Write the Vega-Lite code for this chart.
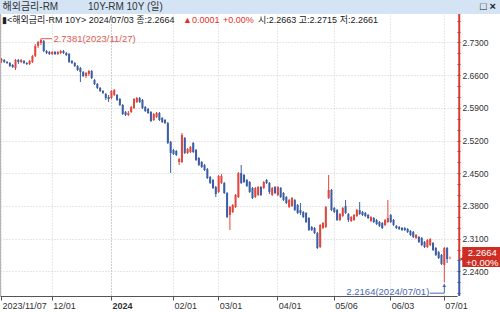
{
"$schema": "https://vega.github.io/schema/vega-lite/v6.json",
"background": "white",
"padding": {"left": 0, "top": 0, "right": 43, "bottom": 16},
"autosize": {"type": "none"},
"width": 457,
"height": 296,
"config": {
  "font": "Liberation Sans, Noto Sans CJK KR, sans-serif",
  "view": {"stroke": null}
},
"datasets": {
"candles": [
{"d":"2023-11-07","o":2.6904,"h":2.6968,"l":2.6861,"c":2.6947},
{"d":"2023-11-08","o":2.6925,"h":2.6947,"l":2.6861,"c":2.6882},
{"d":"2023-11-09","o":2.6882,"h":2.6904,"l":2.6840,"c":2.6861},
{"d":"2023-11-10","o":2.6861,"h":2.6882,"l":2.6775,"c":2.6797},
{"d":"2023-11-13","o":2.6818,"h":2.6840,"l":2.6754,"c":2.6775},
{"d":"2023-11-14","o":2.6754,"h":2.6947,"l":2.6711,"c":2.6925},
{"d":"2023-11-15","o":2.6925,"h":2.6947,"l":2.6840,"c":2.6882},
{"d":"2023-11-16","o":2.6882,"h":2.6947,"l":2.6861,"c":2.6925},
{"d":"2023-11-17","o":2.6904,"h":2.6925,"l":2.6840,"c":2.6861},
{"d":"2023-11-20","o":2.6861,"h":2.6882,"l":2.6818,"c":2.6840},
{"d":"2023-11-21","o":2.6840,"h":2.6925,"l":2.6818,"c":2.6904},
{"d":"2023-11-22","o":2.6882,"h":2.7032,"l":2.6861,"c":2.7011},
{"d":"2023-11-23","o":2.7011,"h":2.7268,"l":2.6990,"c":2.7225},
{"d":"2023-11-24","o":2.7225,"h":2.7332,"l":2.7182,"c":2.7311},
{"d":"2023-11-27","o":2.7289,"h":2.7381,"l":2.7246,"c":2.7353},
{"d":"2023-11-28","o":2.7332,"h":2.7353,"l":2.7097,"c":2.7118},
{"d":"2023-11-29","o":2.7118,"h":2.7139,"l":2.7054,"c":2.7075},
{"d":"2023-11-30","o":2.7097,"h":2.7118,"l":2.7032,"c":2.7054},
{"d":"2023-12-01","o":2.7054,"h":2.7118,"l":2.7032,"c":2.7097},
{"d":"2023-12-04","o":2.7097,"h":2.7118,"l":2.7032,"c":2.7054},
{"d":"2023-12-05","o":2.7054,"h":2.7118,"l":2.7032,"c":2.7097},
{"d":"2023-12-06","o":2.7075,"h":2.7139,"l":2.7054,"c":2.7118},
{"d":"2023-12-07","o":2.7118,"h":2.7139,"l":2.7054,"c":2.7075},
{"d":"2023-12-08","o":2.7075,"h":2.7097,"l":2.7011,"c":2.7032},
{"d":"2023-12-11","o":2.7054,"h":2.7075,"l":2.6861,"c":2.6882},
{"d":"2023-12-12","o":2.6904,"h":2.6925,"l":2.6840,"c":2.6861},
{"d":"2023-12-13","o":2.6861,"h":2.6882,"l":2.6775,"c":2.6797},
{"d":"2023-12-14","o":2.6797,"h":2.6818,"l":2.6690,"c":2.6711},
{"d":"2023-12-15","o":2.6754,"h":2.6775,"l":2.6454,"c":2.6668},
{"d":"2023-12-18","o":2.6668,"h":2.6690,"l":2.6561,"c":2.6583},
{"d":"2023-12-19","o":2.6583,"h":2.6668,"l":2.6540,"c":2.6647},
{"d":"2023-12-20","o":2.6625,"h":2.6711,"l":2.6583,"c":2.6690},
{"d":"2023-12-21","o":2.6690,"h":2.6711,"l":2.6518,"c":2.6540},
{"d":"2023-12-22","o":2.6497,"h":2.6518,"l":2.6390,"c":2.6411},
{"d":"2023-12-25","o":2.6411,"h":2.6433,"l":2.6304,"c":2.6326},
{"d":"2023-12-26","o":2.6326,"h":2.6347,"l":2.6240,"c":2.6261},
{"d":"2023-12-27","o":2.6261,"h":2.6283,"l":2.6197,"c":2.6219},
{"d":"2023-12-28","o":2.6197,"h":2.6219,"l":2.6069,"c":2.6112},
{"d":"2023-12-29","o":2.6133,"h":2.6176,"l":2.6026,"c":2.6090},
{"d":"2024-01-02","o":2.6112,"h":2.6283,"l":2.6090,"c":2.6261},
{"d":"2024-01-03","o":2.6176,"h":2.6304,"l":2.6154,"c":2.6283},
{"d":"2024-01-04","o":2.6176,"h":2.6197,"l":2.6047,"c":2.6069},
{"d":"2024-01-05","o":2.6090,"h":2.6112,"l":2.5940,"c":2.5962},
{"d":"2024-01-08","o":2.5962,"h":2.5983,"l":2.5748,"c":2.5769},
{"d":"2024-01-09","o":2.5812,"h":2.5833,"l":2.5726,"c":2.5748},
{"d":"2024-01-10","o":2.5748,"h":2.5833,"l":2.5726,"c":2.5790},
{"d":"2024-01-11","o":2.5812,"h":2.5940,"l":2.5790,"c":2.5919},
{"d":"2024-01-12","o":2.5897,"h":2.6112,"l":2.5876,"c":2.6090},
{"d":"2024-01-15","o":2.6026,"h":2.6133,"l":2.6005,"c":2.6112},
{"d":"2024-01-16","o":2.6112,"h":2.6133,"l":2.6005,"c":2.6026},
{"d":"2024-01-17","o":2.6069,"h":2.6090,"l":2.5876,"c":2.5897},
{"d":"2024-01-18","o":2.5919,"h":2.5940,"l":2.5812,"c":2.5833},
{"d":"2024-01-19","o":2.5876,"h":2.5897,"l":2.5769,"c":2.5790},
{"d":"2024-01-22","o":2.5812,"h":2.5833,"l":2.5598,"c":2.5619},
{"d":"2024-01-23","o":2.5640,"h":2.5790,"l":2.5619,"c":2.5769},
{"d":"2024-01-24","o":2.5705,"h":2.5812,"l":2.5683,"c":2.5790},
{"d":"2024-01-25","o":2.5790,"h":2.5812,"l":2.5619,"c":2.5640},
{"d":"2024-01-26","o":2.5683,"h":2.5705,"l":2.5576,"c":2.5598},
{"d":"2024-01-29","o":2.5640,"h":2.5662,"l":2.5555,"c":2.5576},
{"d":"2024-01-30","o":2.5576,"h":2.5598,"l":2.5126,"c":2.5148},
{"d":"2024-01-31","o":2.5169,"h":2.5191,"l":2.4506,"c":2.4934},
{"d":"2024-02-01","o":2.4998,"h":2.5019,"l":2.4891,"c":2.4912},
{"d":"2024-02-02","o":2.4977,"h":2.4998,"l":2.4870,"c":2.4891},
{"d":"2024-02-05","o":2.4741,"h":2.4827,"l":2.4677,"c":2.4805},
{"d":"2024-02-06","o":2.4741,"h":2.5362,"l":2.4720,"c":2.5319},
{"d":"2024-02-07","o":2.5255,"h":2.5276,"l":2.4912,"c":2.4934},
{"d":"2024-02-15","o":2.4934,"h":2.5041,"l":2.4912,"c":2.5019},
{"d":"2024-02-16","o":2.4955,"h":2.5084,"l":2.4934,"c":2.5062},
{"d":"2024-02-19","o":2.5148,"h":2.5169,"l":2.4934,"c":2.4955},
{"d":"2024-02-20","o":2.4998,"h":2.5019,"l":2.4763,"c":2.4784},
{"d":"2024-02-21","o":2.4827,"h":2.4848,"l":2.4655,"c":2.4677},
{"d":"2024-02-22","o":2.4741,"h":2.4763,"l":2.4613,"c":2.4634},
{"d":"2024-02-23","o":2.4677,"h":2.4698,"l":2.4548,"c":2.4570},
{"d":"2024-02-26","o":2.4591,"h":2.4613,"l":2.4377,"c":2.4399},
{"d":"2024-02-27","o":2.4420,"h":2.4441,"l":2.4270,"c":2.4291},
{"d":"2024-02-28","o":2.4356,"h":2.4377,"l":2.4163,"c":2.4184},
{"d":"2024-02-29","o":2.4206,"h":2.4227,"l":2.3992,"c":2.4056},
{"d":"2024-03-01","o":2.4099,"h":2.4463,"l":2.4077,"c":2.4441},
{"d":"2024-03-04","o":2.4291,"h":2.4484,"l":2.4270,"c":2.4441},
{"d":"2024-03-05","o":2.4291,"h":2.4313,"l":2.4056,"c":2.4077},
{"d":"2024-03-06","o":2.4077,"h":2.4099,"l":2.3542,"c":2.3563},
{"d":"2024-03-07","o":2.3606,"h":2.3799,"l":2.3285,"c":2.3778},
{"d":"2024-03-08","o":2.3670,"h":2.3842,"l":2.3649,"c":2.3820},
{"d":"2024-03-11","o":2.3778,"h":2.4056,"l":2.3756,"c":2.4035},
{"d":"2024-03-12","o":2.3992,"h":2.4527,"l":2.3970,"c":2.4506},
{"d":"2024-03-13","o":2.4506,"h":2.4677,"l":2.4270,"c":2.4291},
{"d":"2024-03-14","o":2.4463,"h":2.4484,"l":2.4291,"c":2.4313},
{"d":"2024-03-15","o":2.4356,"h":2.4377,"l":2.4206,"c":2.4227},
{"d":"2024-03-18","o":2.4313,"h":2.4334,"l":2.4077,"c":2.4099},
{"d":"2024-03-19","o":2.4184,"h":2.4206,"l":2.3949,"c":2.3970},
{"d":"2024-03-20","o":2.3992,"h":2.4206,"l":2.3970,"c":2.4184},
{"d":"2024-03-21","o":2.4035,"h":2.4227,"l":2.4013,"c":2.4206},
{"d":"2024-03-22","o":2.4206,"h":2.4227,"l":2.4013,"c":2.4035},
{"d":"2024-03-25","o":2.4184,"h":2.4334,"l":2.4163,"c":2.4313},
{"d":"2024-03-26","o":2.4356,"h":2.4377,"l":2.4270,"c":2.4291},
{"d":"2024-03-27","o":2.4291,"h":2.4313,"l":2.4056,"c":2.4099},
{"d":"2024-03-28","o":2.4035,"h":2.4206,"l":2.4013,"c":2.4184},
{"d":"2024-03-29","o":2.4206,"h":2.4227,"l":2.4056,"c":2.4077},
{"d":"2024-04-01","o":2.4035,"h":2.4227,"l":2.4013,"c":2.4206},
{"d":"2024-04-02","o":2.4184,"h":2.4206,"l":2.3970,"c":2.3992},
{"d":"2024-04-03","o":2.4077,"h":2.4099,"l":2.3906,"c":2.3927},
{"d":"2024-04-04","o":2.3992,"h":2.4013,"l":2.3842,"c":2.3863},
{"d":"2024-04-05","o":2.3778,"h":2.3949,"l":2.3756,"c":2.3927},
{"d":"2024-04-08","o":2.3799,"h":2.3992,"l":2.3778,"c":2.3970},
{"d":"2024-04-09","o":2.3927,"h":2.3949,"l":2.3692,"c":2.3713},
{"d":"2024-04-12","o":2.3820,"h":2.3842,"l":2.3628,"c":2.3649},
{"d":"2024-04-15","o":2.3713,"h":2.3863,"l":2.3606,"c":2.3649},
{"d":"2024-04-16","o":2.3670,"h":2.3692,"l":2.3542,"c":2.3563},
{"d":"2024-04-17","o":2.3649,"h":2.3670,"l":2.3435,"c":2.3456},
{"d":"2024-04-18","o":2.3542,"h":2.3563,"l":2.3264,"c":2.3285},
{"d":"2024-04-19","o":2.3349,"h":2.3371,"l":2.3264,"c":2.3285},
{"d":"2024-04-22","o":2.3328,"h":2.3349,"l":2.3199,"c":2.3221},
{"d":"2024-04-23","o":2.3221,"h":2.3242,"l":2.2878,"c":2.2900},
{"d":"2024-04-24","o":2.2921,"h":2.3414,"l":2.2900,"c":2.3392},
{"d":"2024-04-25","o":2.3328,"h":2.3456,"l":2.3306,"c":2.3435},
{"d":"2024-04-26","o":2.3349,"h":2.3799,"l":2.3328,"c":2.3778},
{"d":"2024-04-29","o":2.3970,"h":2.4463,"l":2.3949,"c":2.4142},
{"d":"2024-04-30","o":2.4142,"h":2.4163,"l":2.3692,"c":2.3713},
{"d":"2024-05-06","o":2.3756,"h":2.3778,"l":2.3649,"c":2.3670},
{"d":"2024-05-07","o":2.3713,"h":2.3735,"l":2.3478,"c":2.3499},
{"d":"2024-05-08","o":2.3499,"h":2.3649,"l":2.3478,"c":2.3628},
{"d":"2024-05-09","o":2.3585,"h":2.3778,"l":2.3563,"c":2.3756},
{"d":"2024-05-10","o":2.3799,"h":2.3927,"l":2.3628,"c":2.3649},
{"d":"2024-05-13","o":2.3628,"h":2.3649,"l":2.3456,"c":2.3499},
{"d":"2024-05-14","o":2.3478,"h":2.3585,"l":2.3456,"c":2.3563},
{"d":"2024-05-15","o":2.3499,"h":2.3628,"l":2.3478,"c":2.3606},
{"d":"2024-05-16","o":2.3585,"h":2.3735,"l":2.3563,"c":2.3713},
{"d":"2024-05-17","o":2.3713,"h":2.3885,"l":2.3606,"c":2.3628},
{"d":"2024-05-20","o":2.3670,"h":2.3692,"l":2.3585,"c":2.3606},
{"d":"2024-05-21","o":2.3649,"h":2.3670,"l":2.3563,"c":2.3585},
{"d":"2024-05-22","o":2.3606,"h":2.3628,"l":2.3521,"c":2.3542},
{"d":"2024-05-23","o":2.3478,"h":2.3585,"l":2.3456,"c":2.3563},
{"d":"2024-05-24","o":2.3542,"h":2.3563,"l":2.3435,"c":2.3456},
{"d":"2024-05-27","o":2.3499,"h":2.3521,"l":2.3392,"c":2.3414},
{"d":"2024-05-28","o":2.3456,"h":2.3478,"l":2.3349,"c":2.3371},
{"d":"2024-05-29","o":2.3435,"h":2.3456,"l":2.3306,"c":2.3328},
{"d":"2024-05-30","o":2.3392,"h":2.3521,"l":2.3371,"c":2.3499},
{"d":"2024-05-31","o":2.3456,"h":2.3927,"l":2.3435,"c":2.3542},
{"d":"2024-06-03","o":2.3606,"h":2.3628,"l":2.3435,"c":2.3456},
{"d":"2024-06-04","o":2.3499,"h":2.3521,"l":2.3371,"c":2.3392},
{"d":"2024-06-05","o":2.3371,"h":2.3392,"l":2.3306,"c":2.3328},
{"d":"2024-06-06","o":2.3349,"h":2.3371,"l":2.3285,"c":2.3306},
{"d":"2024-06-07","o":2.3328,"h":2.3349,"l":2.3264,"c":2.3285},
{"d":"2024-06-10","o":2.3328,"h":2.3349,"l":2.3264,"c":2.3285},
{"d":"2024-06-11","o":2.3306,"h":2.3328,"l":2.3221,"c":2.3242},
{"d":"2024-06-12","o":2.3264,"h":2.3285,"l":2.3157,"c":2.3178},
{"d":"2024-06-13","o":2.3242,"h":2.3264,"l":2.3114,"c":2.3135},
{"d":"2024-06-14","o":2.3114,"h":2.3199,"l":2.3092,"c":2.3178},
{"d":"2024-06-18","o":2.3135,"h":2.3157,"l":2.3007,"c":2.3028},
{"d":"2024-06-19","o":2.3114,"h":2.3135,"l":2.2942,"c":2.2964},
{"d":"2024-06-20","o":2.3028,"h":2.3050,"l":2.2900,"c":2.2921},
{"d":"2024-06-21","o":2.2921,"h":2.3092,"l":2.2900,"c":2.3071},
{"d":"2024-06-24","o":2.2964,"h":2.3114,"l":2.2942,"c":2.3092},
{"d":"2024-06-25","o":2.3007,"h":2.3028,"l":2.2835,"c":2.2857},
{"d":"2024-06-26","o":2.2900,"h":2.2921,"l":2.2728,"c":2.2750},
{"d":"2024-06-27","o":2.2814,"h":2.2835,"l":2.2664,"c":2.2685},
{"d":"2024-06-28","o":2.2750,"h":2.2771,"l":2.2536,"c":2.2557},
{"d":"2024-07-01","o":2.2536,"h":2.2921,"l":2.2164,"c":2.2900},
{"d":"2024-07-02","o":2.2900,"h":2.2921,"l":2.2578,"c":2.2663},
{"d":"2024-07-03","o":2.2663,"h":2.2715,"l":2.2661,"c":2.2664}
],
"ann": [
{"d":"2023-11-27","v":2.7381,"t":"2.7381(2023/11/27)","k":"max"},
{"d":"2024-07-01","v":2.2164,"t":"2.2164(2024/07/01)","k":"min"}
],
"frame": [
{"d0":"2023-11-07","d1":"2024-07-03","c":2.2664,"top":2.791,"bottom":2.1872,"head":2.821}
]
},
"layer": [
  {
    "data": {"name": "candles"},
    "mark": {"type": "rule", "strokeWidth": 1},
    "encoding": {
      "x": {"field": "d", "type": "ordinal",
            "scale": {"type": "band", "paddingInner": 0, "paddingOuter": 1.23, "align": 0},
            "axis": {"orient": "bottom", "title": null,
                     "values": ["2023-11-07","2023-12-01","2024-01-02","2024-02-01","2024-03-01","2024-04-01","2024-05-06","2024-06-03","2024-07-01"],
                     "labelExpr": "datum.value == '2023-11-07' ? '2023/11/07' : datum.value == '2024-01-02' ? '2024' : replace(slice(datum.value, 5), '-', '/')",
                     "labelAlign": "left", "labelAngle": 0, "labelOffset": 1, "labelPadding": 1, "labelFontSize": 9, "labelColor": "#333333",
                     "labelFontWeight": {"condition": {"test": "datum.value == '2024-01-02'", "value": "bold"}, "value": "normal"},
                     "labelOverlap": false,
                     "tickSize": 4, "tickColor": "#555555", "domainColor": "#555555",
                     "grid": true, "gridDash": [1, 2],
                     "gridColor": {"condition": {"test": "datum.value == '2024-01-02'", "value": "#9a9a9a"}, "value": "#d0d0d0"}}},
      "y": {"field": "l", "type": "quantitative",
            "scale": {"domain": [2.1872, 2.821], "nice": false, "zero": false},
            "axis": {"orient": "right", "title": null, "domain": false, "tickCount": 100,
                     "values": [2.1933,2.2167,2.24,2.2633,2.2867,2.31,2.3333,2.3567,2.38,2.4033,2.4267,2.45,2.4733,2.4967,2.52,2.5433,2.5667,2.59,2.6133,2.6367,2.66,2.6833,2.7067,2.73,2.7533,2.7767],
                     "labelExpr": "indexof([2.24,2.31,2.38,2.45,2.52,2.59,2.66,2.73], datum.value) >= 0 ? format(datum.value, '.4f') : ''",
                     "labelAlign": "left", "labelPadding": 2, "labelFontSize": 8.5, "labelColor": "#333333", "labelOverlap": false,
                     "tickSize": 3, "tickColor": "#555555",
                     "grid": true, "gridDash": [1, 2], "gridColor": "#cccccc",
                     "gridOpacity": {"condition": {"test": "indexof([2.24,2.31,2.38,2.45,2.52,2.59,2.66,2.73], datum.value) >= 0", "value": 1}, "value": 0}}},
      "y2": {"field": "h"},
      "color": {"condition": {"test": "datum.c >= datum.o", "value": "#e0463c"}, "value": "#3b5ea6"}
    }
  },
  {
    "data": {"name": "candles"},
    "mark": {"type": "bar", "width": {"band": 0.72}},
    "encoding": {
      "x": {"field": "d", "type": "ordinal"},
      "y": {"field": "o", "type": "quantitative"},
      "y2": {"field": "c"},
      "color": {"condition": {"test": "datum.c >= datum.o", "value": "#e0463c"}, "value": "#3b5ea6"}
    }
  },
  {
    "data": {"name": "ann"},
    "transform": [{"filter": "datum.k == 'max'"}],
    "mark": {"type": "rule", "color": "#e05a50", "strokeWidth": 1, "x2Offset": 11.2},
    "encoding": {
      "x": {"field": "d", "type": "ordinal"},
      "x2": {"field": "d"},
      "y": {"field": "v", "type": "quantitative"}
    }
  },
  {
    "data": {"name": "ann"},
    "transform": [{"filter": "datum.k == 'max'"}],
    "mark": {"type": "text", "align": "left", "baseline": "middle", "dx": 12.5, "dy": 0.5, "fontSize": 9.5, "color": "#e05a50"},
    "encoding": {
      "x": {"field": "d", "type": "ordinal"},
      "y": {"field": "v", "type": "quantitative"},
      "text": {"field": "t"}
    }
  },
  {
    "data": {"name": "ann"},
    "transform": [{"filter": "datum.k == 'min'"}],
    "mark": {"type": "text", "align": "right", "baseline": "middle", "dx": -15, "dy": 10, "fontSize": 9.5, "color": "#4a68b5"},
    "encoding": {
      "x": {"field": "d", "type": "ordinal"},
      "y": {"field": "v", "type": "quantitative"},
      "text": {"field": "t"}
    }
  },
  {
    "data": {"name": "ann"},
    "transform": [{"filter": "datum.k == 'min'"}],
    "mark": {"type": "rule", "color": "#4a68b5", "strokeWidth": 1, "xOffset": -14.5, "yOffset": 10.8, "y2Offset": 10.8},
    "encoding": {
      "x": {"field": "d", "type": "ordinal"},
      "x2": {"field": "d"},
      "y": {"field": "v", "type": "quantitative"},
      "y2": {"field": "v"}
    }
  },
  {
    "data": {"name": "ann"},
    "transform": [{"filter": "datum.k == 'min'"}],
    "mark": {"type": "rule", "color": "#4a68b5", "strokeWidth": 1, "yOffset": 10.8, "y2Offset": 2},
    "encoding": {
      "x": {"field": "d", "type": "ordinal"},
      "y": {"field": "v", "type": "quantitative"},
      "y2": {"field": "v"}
    }
  },
  {
    "data": {"name": "ann"},
    "transform": [{"filter": "datum.k == 'min'"}],
    "mark": {"type": "point", "shape": "triangle-up", "size": 14, "filled": true, "opacity": 1, "color": "#4a68b5", "yOffset": 3},
    "encoding": {
      "x": {"field": "d", "type": "ordinal"},
      "y": {"field": "v", "type": "quantitative"}
    }
  },
  {
    "data": {"name": "frame"},
    "mark": {"type": "rule", "color": "#d4e4f4", "strokeWidth": 14, "strokeCap": "butt", "xOffset": -1.6, "x2Offset": 52.6, "yOffset": 7},
    "encoding": {
      "x": {"field": "d0", "type": "ordinal"},
      "x2": {"field": "d1"},
      "y": {"field": "head", "type": "quantitative"}
    }
  },
  {
    "data": {"name": "frame"},
    "mark": {"type": "rule", "color": "#b4b4b4", "strokeWidth": 1, "xOffset": -0.9},
    "encoding": {
      "x": {"field": "d0", "type": "ordinal"},
      "y": {"field": "bottom", "type": "quantitative"},
      "y2": {"field": "top"}
    }
  },
  {
    "data": {"name": "frame"},
    "mark": {"type": "rule", "color": "#d8382d", "strokeWidth": 2, "xOffset": 9.3},
    "encoding": {
      "x": {"field": "d1", "type": "ordinal"},
      "y": {"field": "c", "type": "quantitative"},
      "y2": {"field": "top"}
    }
  },
  {
    "data": {"name": "frame"},
    "mark": {"type": "rule", "color": "#3c5aa6", "strokeWidth": 2, "xOffset": 9.3},
    "encoding": {
      "x": {"field": "d1", "type": "ordinal"},
      "y": {"field": "bottom", "type": "quantitative"},
      "y2": {"field": "c"}
    }
  },
  {
    "data": {"name": "frame"},
    "mark": {"type": "rule", "color": "#cd2d22", "strokeWidth": 40, "strokeCap": "butt", "xOffset": 32.3, "yOffset": -12, "y2Offset": 8},
    "encoding": {
      "x": {"field": "d1", "type": "ordinal"},
      "y": {"field": "c", "type": "quantitative"},
      "y2": {"field": "c"}
    }
  },
  {
    "data": {"name": "frame"},
    "mark": {"type": "point", "shape": "M1,-1L-1,0L1,1Z", "size": 64, "filled": true, "opacity": 1, "color": "#cd2d22", "xOffset": 13.3},
    "encoding": {
      "x": {"field": "d1", "type": "ordinal"},
      "y": {"field": "c", "type": "quantitative"}
    }
  },
  {
    "data": {"name": "frame"},
    "mark": {"type": "text", "align": "center", "baseline": "middle", "fontSize": 9.5, "color": "white", "dx": 32.3, "dy": -6.5},
    "encoding": {
      "x": {"field": "d1", "type": "ordinal"},
      "y": {"field": "c", "type": "quantitative"},
      "text": {"field": "c", "type": "quantitative", "format": ".4f"}
    }
  },
  {
    "data": {"name": "frame"},
    "mark": {"type": "text", "align": "center", "baseline": "middle", "fontSize": 9.5, "color": "white", "dx": 32.3, "dy": 3.5},
    "encoding": {
      "x": {"field": "d1", "type": "ordinal"},
      "y": {"field": "c", "type": "quantitative"},
      "text": {"value": "+0.00%"}
    }
  },
  {
    "data": {"name": "frame"},
    "mark": {"type": "text", "align": "left", "baseline": "middle", "fontSize": 10, "color": "#333333", "dx": 1.1, "dy": 7},
    "encoding": {
      "x": {"field": "d0", "type": "ordinal"},
      "y": {"field": "head", "type": "quantitative"},
      "text": {"value": "해외금리-RM"}
    }
  },
  {
    "data": {"name": "frame"},
    "mark": {"type": "text", "align": "left", "baseline": "middle", "fontSize": 10, "color": "#333333", "dx": 86.6, "dy": 7},
    "encoding": {
      "x": {"field": "d0", "type": "ordinal"},
      "y": {"field": "head", "type": "quantitative"},
      "text": {"value": "10Y-RM 10Y (일)"}
    }
  },
  {
    "data": {"name": "frame"},
    "mark": {"type": "text", "align": "right", "baseline": "middle", "fontSize": 11, "fontWeight": "bold", "color": "#222222", "dx": 494.6, "dy": 7},
    "encoding": {
      "x": {"field": "d0", "type": "ordinal"},
      "y": {"field": "head", "type": "quantitative"},
      "text": {"value": "□ ×"}
    }
  },
  {
    "data": {"name": "frame"},
    "mark": {"type": "text", "align": "left", "baseline": "middle", "fontSize": 9, "color": "#222222", "dx": 0.6, "dy": 20},
    "encoding": {
      "x": {"field": "d0", "type": "ordinal"},
      "y": {"field": "head", "type": "quantitative"},
      "text": {"value": "▮<해외금리-RM 10Y> 2024/07/03 종:2.2664"}
    }
  },
  {
    "data": {"name": "frame"},
    "mark": {"type": "text", "align": "left", "baseline": "middle", "fontSize": 9, "color": "#e0302a", "dx": 181.6, "dy": 20},
    "encoding": {
      "x": {"field": "d0", "type": "ordinal"},
      "y": {"field": "head", "type": "quantitative"},
      "text": {"value": "▲0.0001"}
    }
  },
  {
    "data": {"name": "frame"},
    "mark": {"type": "text", "align": "left", "baseline": "middle", "fontSize": 9, "color": "#e0302a", "dx": 221.6, "dy": 20},
    "encoding": {
      "x": {"field": "d0", "type": "ordinal"},
      "y": {"field": "head", "type": "quantitative"},
      "text": {"value": "+0.00%"}
    }
  },
  {
    "data": {"name": "frame"},
    "mark": {"type": "text", "align": "left", "baseline": "middle", "fontSize": 9, "color": "#222222", "dx": 256.6, "dy": 20},
    "encoding": {
      "x": {"field": "d0", "type": "ordinal"},
      "y": {"field": "head", "type": "quantitative"},
      "text": {"value": "시:2.2663 고:2.2715 저:2.2661"}
    }
  }
]
}
